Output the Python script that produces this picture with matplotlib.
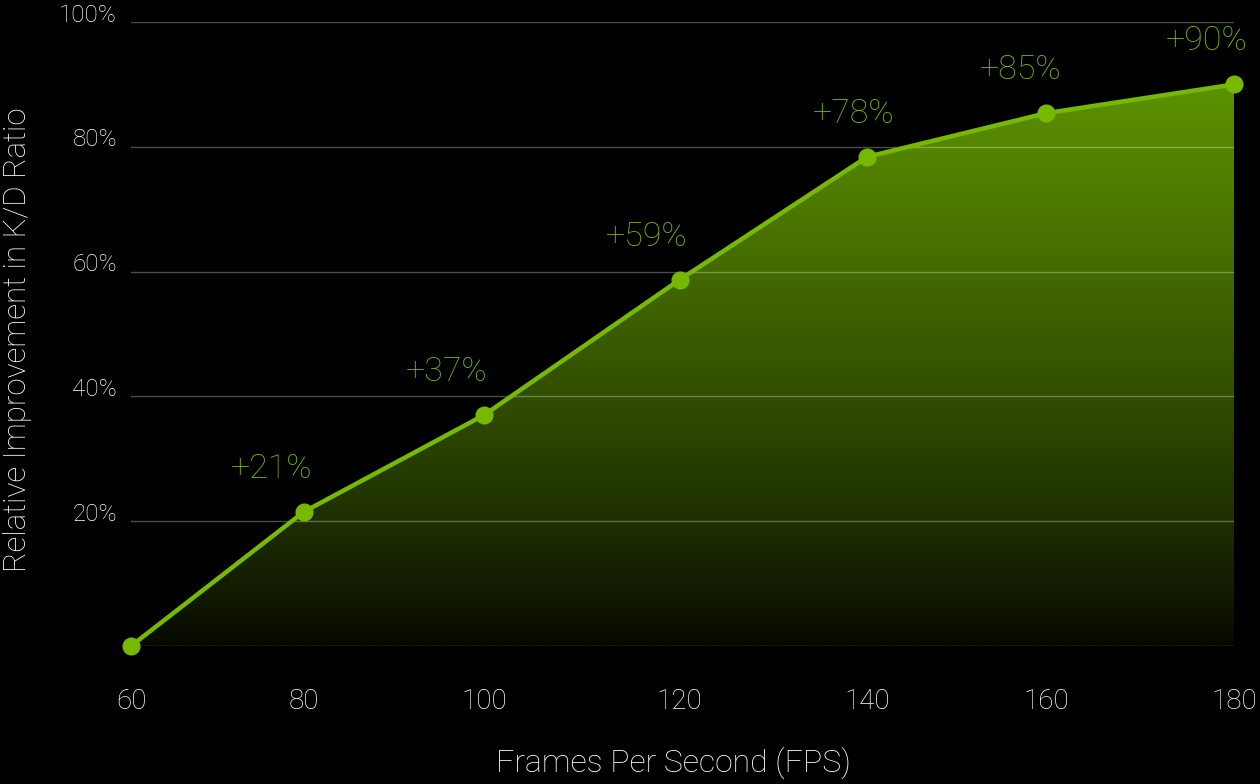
import numpy as np
import matplotlib
matplotlib.use("Agg")
import matplotlib.pyplot as plt
from matplotlib.patches import Polygon

# ---- data ----
fps = [60, 78.8, 98.4, 119.7, 140.1, 159.6, 180]
fps_labels = ["60", "80", "100", "120", "140", "160", "180"]
improvement = [0, 21.5, 37, 58.7, 78.4, 85.4, 90]
point_labels = ["", "+21%", "+37%", "+59%", "+78%", "+85%", "+90%"]
label_dx = [0, -32, -37, -33, -14, -26, -27]  # pixel offsets for labels
y_ticks = [20, 40, 60, 80, 100]
y_tick_labels = ["20%", "40%", "60%", "80%", "100%"]

GREEN = "#76b900"
FONT = "Roboto"
WEIGHT = "light"

W, H = 1260, 784
fig = plt.figure(figsize=(W / 100, H / 100), dpi=100, facecolor="black")
ax = fig.add_axes([131 / W, 1 - 646 / H, (1234 - 131) / W, (646 - 22) / H])
ax.set_facecolor("black")

# gradient fill under the curve
grad = (np.linspace(0, 1, 256) ** 0.85).reshape(-1, 1)
top = np.array([0x5c, 0x92, 0x00]) / 255.0
bottom = np.array([0x06, 0x08, 0x01]) / 255.0
rgb = bottom[None, None, :] + grad[:, :, None] * (top - bottom)[None, None, :]
img = np.concatenate([rgb, np.ones((256, 1, 1))], axis=2)
im = ax.imshow(img, extent=[60, 180, 0, 90], origin="lower",
               aspect="auto", zorder=1, interpolation="bilinear")
verts = list(zip(fps, improvement)) + [(fps[-1], 0), (fps[0], 0)]
poly = Polygon(verts, closed=True, facecolor="none", edgecolor="none")
ax.add_patch(poly)
im.set_clip_path(poly)
ax.set_xlim(60, 180)
ax.set_ylim(0, 100)

# grid lines
for yv in [0] + y_ticks:
    ax.axhline(yv, color="white", alpha=0.3, lw=1.0, zorder=2)

ax.plot(fps, improvement, color=GREEN, lw=3.2, zorder=3,
        marker="o", markersize=12, clip_on=False)

for x, y, t, dx in zip(fps, improvement, point_labels, label_dx):
    if t:
        ax.annotate(t, (x, y), xytext=(dx * 0.72, 31), textcoords="offset points",
                    ha="center", va="center", color=GREEN, fontsize=24.5,
                    family=FONT, fontweight=WEIGHT)

for s in ax.spines.values():
    s.set_visible(False)
ax.set_xticks(fps)
ax.set_xticklabels(fps_labels, color="white", fontsize=20, family=FONT, fontweight=WEIGHT)
ax.tick_params(axis="x", length=0, pad=30)
ax.set_yticks([])
for yv, lab in zip(y_ticks, y_tick_labels):
    ax.annotate(lab, (60, yv), xytext=(-10, 5), textcoords="offset points",
                ha="right", va="center", color="white", fontsize=17.5,
                family=FONT, fontweight=WEIGHT, annotation_clip=False)

fig.text(673 / W, 1 - 763 / H, "Frames Per Second (FPS)", ha="center", va="center",
         color="white", fontsize=23, family=FONT, fontweight=WEIGHT)
fig.text(18 / W, 1 - 340 / H, "Relative Improvement in K/D Ratio", ha="center", va="center",
         rotation=90, color="white", fontsize=22.5, family=FONT, fontweight=WEIGHT)

fig.savefig("out.png", dpi=100, facecolor="black")
